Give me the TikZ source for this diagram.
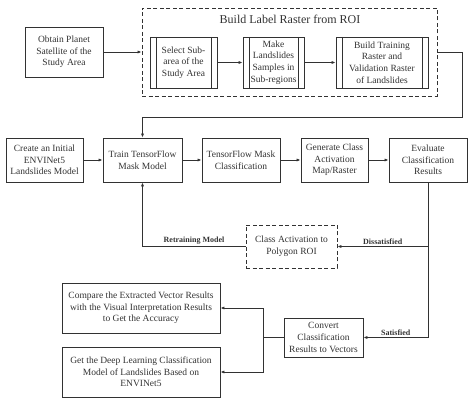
\documentclass[tikz,border=0pt]{standalone}
\usepackage{fontspec}
\setmainfont{Liberation Serif}
\definecolor{ink}{RGB}{50, 50, 50}
\usepackage{tikz}
\usetikzlibrary{shapes, arrows.meta, positioning, calc}

\begin{document}
\begin{tikzpicture}[x=1pt, y=-1pt,
    box/.style={draw=ink, line width=0.9pt, text=ink, align=center, inner sep=0pt,
      font=\fontsize{9.5}{11.7}\selectfont},
    procbox/.style={box, path picture={
        \draw[ink, line width=0.8pt] ([xshift=6pt]path picture bounding box.north west) -- ([xshift=6pt]path picture bounding box.south west);
        \draw[ink, line width=0.8pt] ([xshift=-6pt]path picture bounding box.north east) -- ([xshift=-6pt]path picture bounding box.south east);}},
    groupbox/.style={box, dashed, dash pattern=on 4pt off 2.5pt},
    arr/.style={draw=ink, line width=0.8pt, -{Latex[length=4pt, width=3.2pt]}},
    tag/.style={font=\fontsize{8}{9.5}\selectfont\bfseries, text=ink, above, inner sep=2pt}]
  \useasboundingbox (0,0) rectangle (474,403);

  % top row
  \node[box, minimum width=78pt, minimum height=50pt] (obtain) at (64,52) {Obtain Planet\\Satellite of the\\Study Area};
  \node[groupbox, minimum width=295pt, minimum height=88pt] (roi) at (289.5,52) {};
  \node[text=ink, font=\fontsize{12}{14}\selectfont] (roititle) at (290,19) {Build Label Raster from ROI};
  \node[procbox, minimum width=67pt, minimum height=51pt] (select) at (183.5,62.5) {Select Sub-\\area of the\\Study Area};
  \node[procbox, minimum width=61pt, minimum height=51pt] (samples) at (273.5,62.5) {Make\\Landslides\\Samples in\\Sub-regions};
  \node[procbox, minimum width=92pt, minimum height=51pt] (training) at (382,62.5) {Build Training\\Raster and\\Validation Raster\\of Landslides};

  % middle row
  \node[box, minimum width=77pt, minimum height=44pt] (create) at (44.5,160) {Create an Initial\\ENVINet5\\Landslides Model};
  \node[box, minimum width=79pt, minimum height=44pt] (train) at (142.5,160) {Train TensorFlow\\Mask Model};
  \node[box, minimum width=78pt, minimum height=44pt] (classify) at (241,160) {TensorFlow Mask\\Classification};
  \node[box, minimum width=67pt, minimum height=44pt] (activation) at (334.5,160) {Generate Class\\Activation\\Map/Raster};
  \node[box, minimum width=78pt, minimum height=44pt] (evaluate) at (428,160) {Evaluate\\Classification\\Results};

  % feedback and results
  \node[groupbox, minimum width=91pt, minimum height=43pt] (polyroi) at (291.5,246.5) {Class Activation to\\Polygon ROI};
  \node[box, minimum width=79pt, minimum height=39pt] (convert) at (323.5,337.5) {Convert\\Classification\\Results to Vectors};
  \node[box, minimum width=158pt, minimum height=50pt] (compare) at (141,308) {Compare the Extracted Vector Results\\with the Visual Interpretation Results\\to Get the Accuracy};
  \node[box, minimum width=158pt, minimum height=50pt] (model) at (141,372) {Get the Deep Learning Classification\\Model of Landslides Based on\\ENVINet5};

  \coordinate (turn) at (462,117);
  \coordinate (split) at (263,337.5);

  \draw[arr] (obtain.east) -- (roi.west);
  \draw[arr] (select) -- (samples);
  \draw[arr] (samples) -- (training);
  \draw[arr] (roi.east) -| (turn) -| (train.north);
  \draw[arr] (create) -- (train);
  \draw[arr] (train) -- (classify);
  \draw[arr] (classify) -- (activation);
  \draw[arr] (activation) -- (evaluate);
  \draw[arr] (evaluate.south) |- node[tag, pos=0.75] {Dissatisfied} (polyroi.east);
  \draw[arr] (evaluate.south) |- node[tag, pos=0.75] {Satisfied} (convert.east);
  \draw[arr] (polyroi.west) -| node[tag, pos=0.25] {Retraining Model} (train.south);
  \draw[draw=ink, line width=0.8pt] (convert.west) -- (split);
  \draw[arr] (split) |- (compare.east);
  \draw[arr] (split) |- (model.east);
\end{tikzpicture}
\end{document}
